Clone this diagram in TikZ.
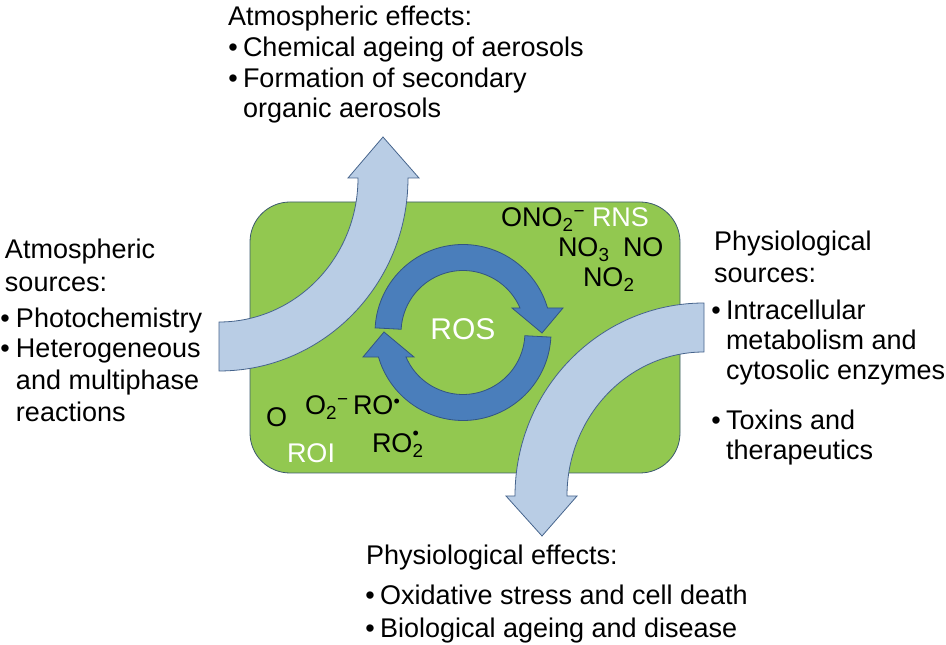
\documentclass[tikz,border=0pt]{standalone}
\usepackage{fontspec}
\setmainfont{Liberation Sans}
\definecolor{boxgreen}{RGB}{146,200,80}
\definecolor{boxline}{RGB}{60,90,110}
\definecolor{ringfill}{RGB}{74,126,187}
\definecolor{ringline}{RGB}{50,85,130}
\definecolor{arrfill}{RGB}{185,205,229}
\definecolor{arrline}{RGB}{70,100,140}
\newcommand{\radot}[1]{\rlap{\raisebox{#1}{\fontsize{18}{18}\selectfont •}}}
\tikzset{
  txt/.style={inner sep=0pt, outer sep=0pt, anchor=base west, font=\fontsize{27}{32}\selectfont},
  bul/.style={inner sep=0pt, outer sep=0pt, anchor=base, font=\fontsize{27}{32}\selectfont},
  wtxt/.style={txt, text=white},
  greenbox/.style={fill=boxgreen, draw=boxline, line width=0.8pt, rounded corners=40pt},
  ringarrow/.style={fill=ringfill, draw=ringline, line width=0.8pt, line join=miter},
  bigarrow/.style={fill=arrfill, draw=arrline, line width=0.8pt, line join=miter},
}
\begin{document}
\begin{tikzpicture}[x=1pt,y=1pt]
\useasboundingbox (0,0) rectangle (946,645);

% green box
\draw[greenbox] (250,172) rectangle (680,443);

% ROS ring arrows
\begin{scope}[shift={(463,312.5)}]
  \draw[ringarrow] (177:88) arc[start angle=177, end angle=16.2, radius=88]
     -- (100,24.5) -- (79,-0.5) -- (49,24.5) -- (57,24.5)
     arc[start angle=23.3, end angle=177, radius=62] -- cycle;
  \draw[ringarrow] (-3:88) arc[start angle=-3, end angle=-163.8, radius=88]
     -- (-100,-24.5) -- (-79,0.5) -- (-49,-24.5) -- (-57,-24.5)
     arc[start angle=-156.7, end angle=-3, radius=62] -- cycle;
\end{scope}

% chemical labels
\node[txt] (ono2) at (501,418) {ONO\textsubscript{2}\textsuperscript{−}};
\node[wtxt] (rns) at (592,418) {RNS};
\node[txt] (no3) at (558,388) {NO\textsubscript{3}};
\node[txt] (no) at (623,388) {NO};
\node[txt] (no2) at (583,358) {NO\textsubscript{2}};
\node[txt] (o) at (266,218) {O};
\node[txt] (o2) at (305,230) {O\textsubscript{2}\textsuperscript{−}};
\node[txt] (ro) at (353,230) {RO\radot{7pt}};
\node[txt] (ro2) at (372,192) {RO\radot{13pt}\textsubscript{2}};
\node[wtxt] (roi) at (287,182) {ROI};
\node[inner sep=0pt, text=white, font=\fontsize{30}{36}\selectfont] (ros) at (463,316) {ROS};

% big curved arrows
\draw[bigarrow] (219,274) arc[start angle=270, end angle=360, x radius=189, y radius=193]
   -- (419,467) -- (383,508) -- (348,467) -- (358,467)
   arc[start angle=0, end angle=-90, x radius=139, y radius=144] -- cycle;
\draw[bigarrow] (704,342) arc[start angle=90, end angle=180, x radius=189, y radius=193]
   -- (506,149) -- (542,109) -- (577,149) -- (567,149)
   arc[start angle=180, end angle=90, x radius=137, y radius=144] -- cycle;

% top block
\node[txt] (ae) at (228,619) {Atmospheric effects:};
\node[bul] (ae1b) at (233,588) {•};
\node[txt] (ae1) at (243,588) {Chemical ageing of aerosols};
\node[bul] (ae2b) at (233,557) {•};
\node[txt] (ae2) at (243,557) {Formation of secondary};
\node[txt] (ae3) at (243,527) {organic aerosols};

% left block
\node[txt] (as) at (5,386) {Atmospheric};
\node[txt] (as2) at (5,353) {sources:};
\node[bul] (as3b) at (5,317) {•};
\node[txt] (as3) at (16,317) {Photochemistry};
\node[bul] (as4b) at (5,287) {•};
\node[txt] (as4) at (16,287) {Heterogeneous};
\node[txt] (as5) at (16,255) {and multiphase};
\node[txt] (as6) at (16,223) {reactions};

% right block
\node[txt] (ps) at (714,394) {Physiological};
\node[txt] (ps2) at (714,362) {sources:};
\node[bul] (ps3b) at (716,325) {•};
\node[txt] (ps3) at (726,325) {Intracellular};
\node[txt] (ps4) at (726,295) {metabolism and};
\node[txt] (ps5) at (726,265) {cytosolic enzymes};
\node[bul] (ps6b) at (716,215) {•};
\node[txt] (ps6) at (726,215) {Toxins and};
\node[txt] (ps7) at (726,185) {therapeutics};

% bottom block
\node[txt] (pe) at (366,80) {Physiological effects:};
\node[bul] (pe1b) at (370,40) {•};
\node[txt] (pe1) at (380,40) {Oxidative stress and cell death};
\node[bul] (pe2b) at (370,7) {•};
\node[txt] (pe2) at (380,7) {Biological ageing and disease};
\end{tikzpicture}
\end{document}
